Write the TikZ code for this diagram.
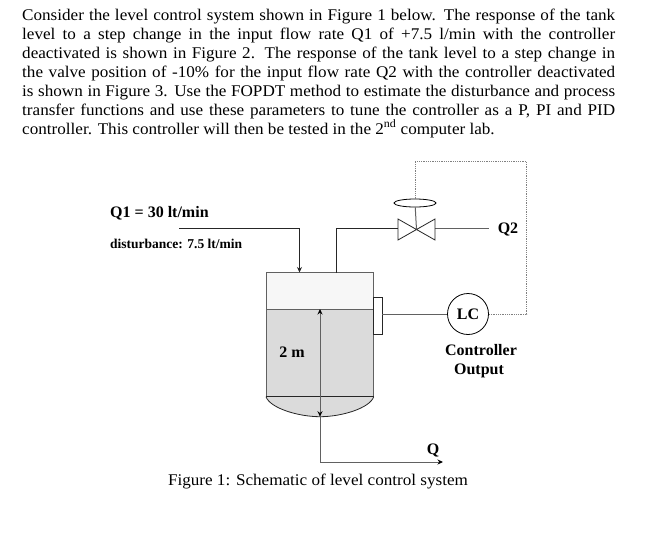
\documentclass[tikz,border=0pt]{standalone}
\usepackage{fontspec}
\usetikzlibrary{shapes.geometric,arrows.meta}
\setmainfont{Liberation Serif}
\newfontfamily\bodyfont[FakeStretch=1.05]{Liberation Serif}
\begin{document}
\begin{tikzpicture}[x=1pt,y=-1pt,
    pipe/.style={draw=black!62,line width=1pt},
    thinline/.style={draw=black!85,line width=0.8pt},
    signal/.style={draw=black!50,line width=0.8pt,densely dotted},
    lbl/.style={font=\bfseries\fontsize{16}{18}\selectfont,inner sep=0pt}]
    \useasboundingbox (0,0) rectangle (647,550);

    \node[anchor=north west,inner sep=0pt,text width=593pt,align=justify,font=\bodyfont\fontsize{16.3}{19}\selectfont] (question) at (22,8.5) {Consider the level control system shown in Figure 1 below.  The response of the tank\linebreak
    level to a step change in the input flow rate Q1 of +7.5 l/min with the controller\linebreak
    deactivated is shown in Figure 2. The response of the tank level to a step change in\linebreak
    the valve position of -10\% for the input flow rate Q2 with the controller deactivated\linebreak
    is shown in Figure 3. Use the FOPDT method to estimate the disturbance and process\linebreak
    transfer functions and use these parameters to tune the controller as a P, PI and PID\linebreak
    controller. This controller will then be tested in the 2\textsuperscript{nd} computer lab.};

    \coordinate (tl) at (266,272.5); \coordinate (tr) at (373.7,272.5);
    \coordinate (ll) at (266,309); \coordinate (lr) at (373.7,309);
    \coordinate (bl) at (266,396.7); \coordinate (br) at (373.7,396.7);
    \coordinate (low) at (320,416.7); \coordinate (lev) at (320,309);

    \fill[black!3] (tl) rectangle (lr);
    \fill[black!14] (ll) -- (bl) .. controls (270,408) and (298,416.7) .. (low) .. controls (342,416.7) and (370,408) .. (br) -- (lr) -- cycle;
    \draw[pipe] (bl) -- (tl) -- (tr) -- (br);
    \draw[pipe] (ll) -- (lr);
    \draw[thinline] (bl) -- (br);
    \draw[thinline] (bl) .. controls (270,408) and (298,416.7) .. (low) .. controls (342,416.7) and (370,408) .. (br);

    \coordinate (q1) at (179,228); \coordinate (q1c) at (299.5,228); \coordinate (q1t) at (299.5,272.5);
    \draw[thinline,-{Stealth[length=5.5pt,width=5pt]}] (q1) -- (q1c) -- (q1t);

    \coordinate (vin) at (336.5,272.5); \coordinate (vc) at (336.5,228.5);
    \coordinate (vl) at (398,228.5); \coordinate (vm) at (416.5,229.5); \coordinate (vr) at (435,228.5);
    \coordinate (vout) at (489,228.5);
    \draw[thinline] (vin) -- (vc) -- (vl);
    \draw[pipe] (vr) -- (vout);
    \draw[thinline] (398,219) -- (435,240) -- (435,219) -- (398,240) -- cycle;

    \node[draw=black,line width=0.8pt,ellipse,minimum width=42pt,minimum height=8pt,inner sep=0pt] (act) at (415,203) {};
    \draw[pipe] (act) -- (vm);

    \node[draw=black,line width=0.8pt,circle,minimum size=41pt,inner sep=0pt,font=\bfseries\fontsize{16}{18}\selectfont] (lc) at (468,314) {LC};
    \draw[thinline,fill=white] (373.7,297) rectangle (382,334);
    \coordinate (sens) at (382,314);
    \draw[pipe] (sens) -- (lc);

    \coordinate (s1) at (526.7,314); \coordinate (s2) at (526.7,161.7); \coordinate (s3) at (415,161.7);
    \draw[signal] (lc) -- (s1) -- (s2) -- (s3) -- (act);

    \coordinate (out) at (320,462); \coordinate (outr) at (443,462);
    \draw[pipe,{Stealth[length=5.5pt,width=5pt,black]}-{Stealth[length=5.5pt,width=5pt,black]}] (lev) -- (low);
    \draw[pipe,-{Stealth[length=5.5pt,width=5pt,black]}] (low) -- (out) -- (outr);

    \node[lbl,anchor=west] (q1lbl) at (110,213) {Q1 = 30 lt/min};
    \node[lbl,font=\bfseries\fontsize{13.5}{15}\selectfont,anchor=west] (dist) at (110,244) {disturbance: 7.5 lt/min};
    \node[lbl] (q2lbl) at (508,229.5) {Q2};
    \node[lbl] (hlbl) at (292,352.5) {2 m};
    \node[lbl] (ctrl) at (481,350) {Controller};
    \node[lbl] (outp) at (479,371) {Output};
    \node[lbl] (qlbl) at (433,450) {Q};

    \node[inner sep=0pt,font=\bodyfont\fontsize{16.3}{19}\selectfont] (caption) at (318,482) {Figure 1: Schematic of level control system};
\end{tikzpicture}
\end{document}
